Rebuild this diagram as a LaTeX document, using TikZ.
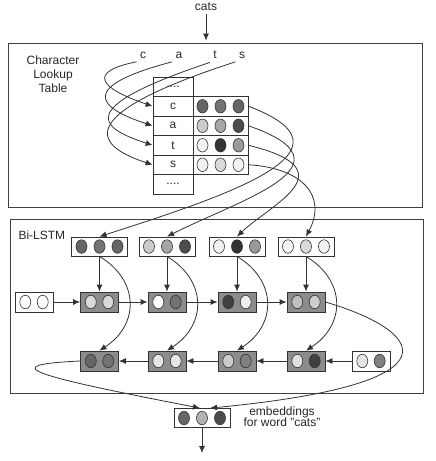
\documentclass[tikz,border=0pt]{standalone}
\usepackage{fontspec}
\setmainfont{Liberation Sans}
\usetikzlibrary{arrows.meta,shapes.geometric}

\tikzset{
  frame/.style={draw=black!75, line width=0.9pt, inner sep=0pt},
  cell/.style={draw=black!80, line width=0.8pt, minimum width=40, minimum height=19.5, inner sep=0pt},
  row/.style={cell, minimum width=55},
  vec/.style={draw=black!80, line width=0.8pt, fill=white, minimum width=56, minimum height=19, inner sep=0pt},
  lstm/.style={draw=black!80, line width=0.8pt, fill=black!45, minimum width=38, minimum height=20, inner sep=0pt},
  initstate/.style={lstm, fill=white},
  dot/.style={ellipse, draw=black!80, line width=0.6pt, minimum width=11, minimum height=13.5, inner sep=0pt},
  link/.style={draw=black!80, line width=0.8pt, -{Latex[length=7pt,width=6pt]}}
}

\begin{document}
\begin{tikzpicture}[x=1pt, y=-1pt, font=\fontsize{12}{14}\selectfont, text=black!85]
\useasboundingbox ( 0, 0 ) rectangle ( 436, 461 );

% Input word
\node (cats) at ( 206, 7 ) {cats};

% Character lookup table
\node [frame, minimum width=414, minimum height=164] (lookup) at ( 215, 125 ) {};
\node [align=center] (lookuplabel) at ( 53, 74 ) {Character\\Lookup\\Table};
\draw [link, shorten >=2pt] (cats.south) -- (cats.south |- lookup.north);

% Letters
\node (chc) at ( 143, 55 ) {c};
\node (cha) at ( 179, 55 ) {a};
\node (cht) at ( 215, 55 ) {t};
\node (chs) at ( 242, 55 ) {s};

% Table
\node [cell] (tabtop) at ( 173, 86.75 ) {....};
\node [cell] (tabbot) at ( 173, 184.25 ) {....};
\foreach \ch/\y/\ca/\cb/\cc in {c/106.25/60/55/60, a/125.75/20/35/70, t/145.25/5/80/40, s/164.75/5/15/5}
{
  \node [cell] (tab\ch) at ( 173, \y ) {\ch};
  \node [row] (emb\ch) at ( 220.5, \y ) {};
  \node [dot, fill=black!\ca] (emb\ch1) at ( 202.5, \y ) {};
  \node [dot, fill=black!\cb] (emb\ch2) at ( 220.5, \y ) {};
  \node [dot, fill=black!\cc] (emb\ch3) at ( 238.5, \y ) {};
}

% Letters into table
\draw [link] (chc.south west) .. controls +( -50, 10 ) and +( -53, -18 ) .. (tabc.west);
\draw [link] (cha.south west) .. controls +( -95, 25 ) and +( -55, -18 ) .. (taba.west);
\draw [link] (cht.south west) .. controls +( -135, 45 ) and +( -55, -18 ) .. (tabt.west);
\draw [link] (chs.south west) .. controls +( -170, 55 ) and +( -55, -18 ) .. (tabs.west);

% Bi-LSTM
\node [frame, minimum width=413, minimum height=174] (bilstm) at ( 216.5, 306 ) {};
\node [anchor=west] (bilstmlabel) at ( 15, 235 ) {Bi-LSTM};

% Character vectors
\foreach \i/\x/\ca/\cb/\cc in {1/99.5/60/55/60, 2/167/20/35/70, 3/237/5/80/40, 4/306/5/15/5}
{
  \node [vec] (in\i) at ( \x, 246.5 ) {};
  \node [dot, fill=black!\ca] (in\i-1) at ( \x-18, 246.5 ) {};
  \node [dot, fill=black!\cb] (in\i-2) at ( \x, 246.5 ) {};
  \node [dot, fill=black!\cc] (in\i-3) at ( \x+18, 246.5 ) {};
}

% Table rows down to the vectors
\draw [link] (embc.east) .. controls +( 117, 44 ) and +( 130.5, -42 ) .. (in1.north);
\draw [link] (emba.east) .. controls +( 112, 39 ) and +( 73, -37 ) .. (in2.north);
\draw [link] (embt.east) .. controls +( 102, 25 ) and +( 33, -32 ) .. (in3.north);
\draw [link] (embs.east) .. controls +( 52, 3 ) and +( 22, -42 ) .. (in4.north);

% Forward states
\node [initstate] (fwd0) at ( 34, 302 ) {};
\node [dot, fill=white] (fwd0-1) at ( 25.3, 302 ) {};
\node [dot, fill=white] (fwd0-2) at ( 42.7, 302 ) {};
\foreach \i/\x/\ca/\cb in {1/99.5/15/15, 2/167/0/55, 3/237/75/7, 4/306/25/20}
{
  \node [lstm] (fwd\i) at ( \x, 302 ) {};
  \node [dot, fill=black!\ca] (fwd\i-1) at ( \x-8.7, 302 ) {};
  \node [dot, fill=black!\cb] (fwd\i-2) at ( \x+8.7, 302 ) {};
}

% Backward states
\node [initstate] (bwd5) at ( 371, 361 ) {};
\node [dot, fill=black!10] (bwd5-1) at ( 362.3, 361 ) {};
\node [dot, fill=black!50] (bwd5-2) at ( 379.7, 361 ) {};
\foreach \i/\x/\ca/\cb in {1/99.5/60/55, 2/167/10/10, 3/237/20/50, 4/306/12/75}
{
  \node [lstm] (bwd\i) at ( \x, 361 ) {};
  \node [dot, fill=black!\ca] (bwd\i-1) at ( \x-8.7, 361 ) {};
  \node [dot, fill=black!\cb] (bwd\i-2) at ( \x+8.7, 361 ) {};
}

% Recurrences
\foreach \i/\j in {0/1, 1/2, 2/3, 3/4}
  \draw [link] (fwd\i.east) -- (fwd\j.west);
\foreach \i/\j in {5/4, 4/3, 3/2, 2/1}
  \draw [link] (bwd\i.west) -- (bwd\j.east);

% Inputs to both directions
\foreach \i in {1,...,4}
{
  \draw [link] (in\i.south) -- (fwd\i.north);
  \draw [link] (in\i.south) .. controls +( 40, 24 ) and +( 40, -26 ) .. (bwd\i.north);
}

% Word embedding
\node [vec] (out) at ( 202, 418 ) {};
\node [dot, fill=black!60] (out-1) at ( 184, 418 ) {};
\node [dot, fill=black!30] (out-2) at ( 202, 418 ) {};
\node [dot, fill=black!70] (out-3) at ( 220, 418 ) {};
\node [align=center, font=\fontsize{12}{11.3}\selectfont] (outlabel) at ( 282, 416.5 ) {embeddings\\for word "cats"};

\draw [link] (bwd1.west) .. controls +( -85.5, 4 ) and +( -170, -33 ) .. ([xshift=-2]out.north);
\draw [link] (fwd4.east) .. controls +( 95, 28 ) and +( 260, -25 ) .. ([xshift=8]out.north);

\coordinate (outend) at ( 202, 453 );
\draw [link] (out.south) -- (outend);

\end{tikzpicture}
\end{document}
